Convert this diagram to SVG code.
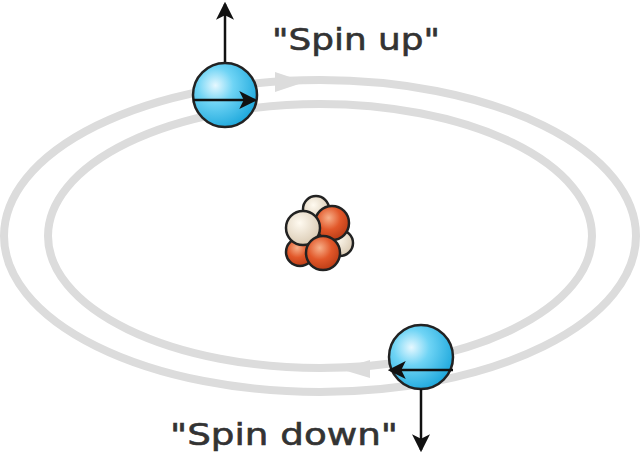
<svg xmlns="http://www.w3.org/2000/svg" width="640" height="455" viewBox="0 0 640 455">
<defs>
<radialGradient id="eg" cx="0.35" cy="0.35" r="0.7"><stop offset="0" stop-color="#e6f8ff"/><stop offset="0.4" stop-color="#6fd4f5"/><stop offset="1" stop-color="#1ea8dc"/></radialGradient>
<radialGradient id="red" cx="0.4" cy="0.35" r="0.7"><stop offset="0" stop-color="#f7b08a"/><stop offset="0.5" stop-color="#e2582a"/><stop offset="1" stop-color="#b83a14"/></radialGradient>
<radialGradient id="cream" cx="0.4" cy="0.35" r="0.7"><stop offset="0" stop-color="#fffaf0"/><stop offset="1" stop-color="#d8c8b0"/></radialGradient>
<marker id="ah" markerWidth="18" markerHeight="18" refX="14" refY="8" orient="auto" markerUnits="userSpaceOnUse" viewBox="0 0 16 16"><path d="M0,0 L16,8 L0,16 L4,8 Z" fill="#111"/></marker>
</defs>
<style>
.orb{fill:none;stroke:#dcdcdc;stroke-width:8}
.ax{stroke:#111;stroke-width:2.5;fill:none}
.lbl{font-family:Verdana,"DejaVu Sans",sans-serif;font-size:30px;fill:#333;stroke:#333;stroke-width:0.6}
.n{stroke:#222;stroke-width:2.5}
</style>
<g id="orbits">
<ellipse class="orb" cx="320" cy="236" rx="316" ry="156"/>
<ellipse class="orb" cx="320" cy="236" rx="272" ry="132"/>
<path d="M275,72 L305,82 L275,92 Z" fill="#dcdcdc"/>
<path d="M370,360 L340,369 L370,378 Z" fill="#dcdcdc"/>
</g>
<g id="nucleus">
<circle class="n" cx="340" cy="243" r="13" fill="url(#cream)"/>
<circle class="n" cx="300" cy="252" r="14" fill="url(#red)"/>
<circle class="n" cx="316" cy="209" r="13" fill="url(#cream)"/>
<circle class="n" cx="332" cy="223" r="17" fill="url(#red)"/>
<circle class="n" cx="303" cy="228" r="17" fill="url(#cream)"/>
<circle class="n" cx="323" cy="253" r="17" fill="url(#red)"/>
</g>
<g id="electron-up">
<line class="ax" x1="225" y1="62" x2="225" y2="4" marker-end="url(#ah)"/>
<circle cx="225" cy="95" r="32" fill="url(#eg)" stroke="#222" stroke-width="2.5"/>
<path class="ax" d="M193,100 L255,100" marker-end="url(#ah)"/>
<text class="lbl" x="272" y="50" textLength="168" lengthAdjust="spacingAndGlyphs">"Spin up"</text>
</g>
<g id="electron-down">
<circle cx="421" cy="357" r="32" fill="url(#eg)" stroke="#222" stroke-width="2.5"/>
<path class="ax" d="M453,370 L390,370" marker-end="url(#ah)"/>
<line class="ax" x1="421" y1="389" x2="421" y2="450" marker-end="url(#ah)"/>
<text class="lbl" x="170" y="445" textLength="228" lengthAdjust="spacingAndGlyphs">"Spin down"</text>
</g>
</svg>
